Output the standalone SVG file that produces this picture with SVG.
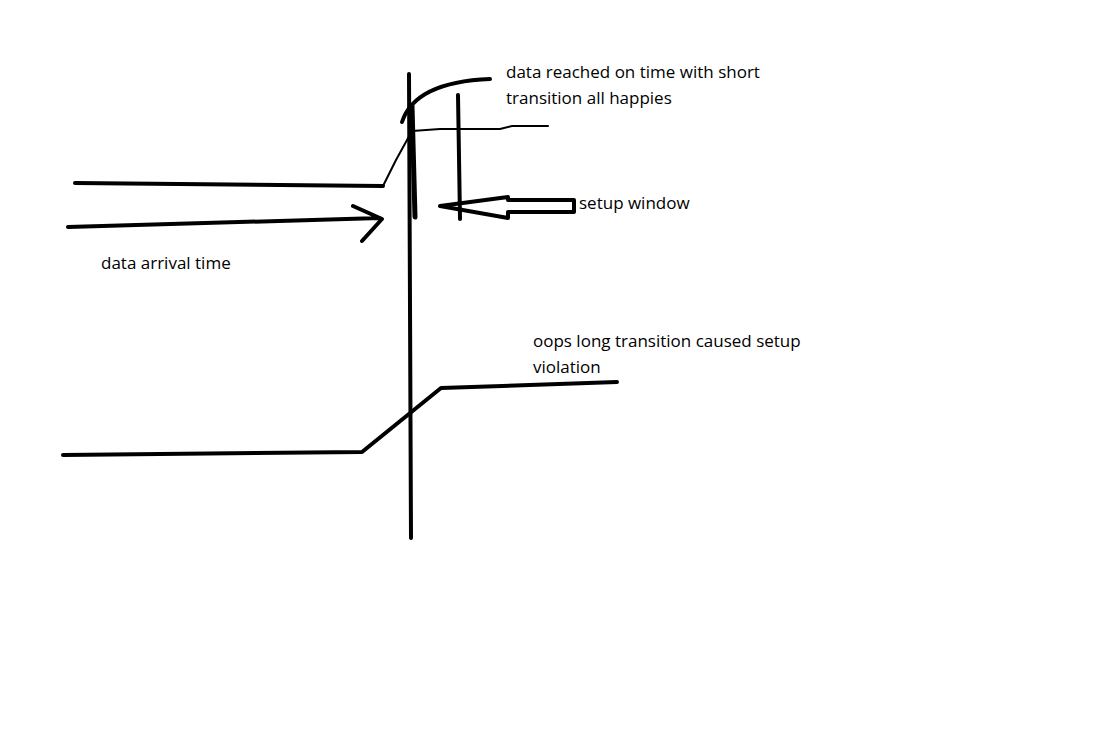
<svg xmlns="http://www.w3.org/2000/svg" width="1099" height="741" viewBox="0 0 1099 741">
<style>
.s{fill:none;stroke:#000;stroke-linecap:round;stroke-linejoin:round}
.t{font-family:"Open Sans","Liberation Sans",sans-serif;font-size:17px;fill:#000}
</style>
<rect width="1099" height="741" fill="#fff"/>
<g id="top-signal">
<path class="s" stroke-width="4" d="M75 183 L383 186"/>
<path class="s" stroke-width="2" d="M383 186 L396 160 L412 131 L440 129 L500 129 L512 126 L548 126"/>
<path class="s" stroke-width="4" d="M402 122 Q415 82 490 79"/>
<path class="s" stroke-width="5" d="M412 106 L415 217"/>
</g>
<g id="clock-edge"><path class="s" stroke-width="4" d="M409 74 L411 538"/></g>
<g id="setup-line"><path class="s" stroke-width="4" d="M458 95 L460 219"/></g>
<g id="arrival-arrow">
<path class="s" stroke-width="4" d="M68 227 L380 218 M353 206 L382 219 L362 241"/>
</g>
<g id="setup-arrow">
<path class="s" stroke-width="4" d="M440 206 L508 197 L508 200 L574 200 L574 212 L508 212 L508 218 Z"/>
</g>
<g id="bottom-signal">
<path class="s" stroke-width="4" d="M63 455 L362 452 L441 388 L617 382"/>
</g>
<text class="t" x="506" y="78">data reached on time with short</text>
<text class="t" x="506" y="104">transition all happies</text>
<text class="t" x="579" y="209">setup window</text>
<text class="t" x="101" y="269">data arrival time</text>
<text class="t" x="533" y="347">oops long transition caused setup</text>
<text class="t" x="533" y="373">violation</text>
</svg>
